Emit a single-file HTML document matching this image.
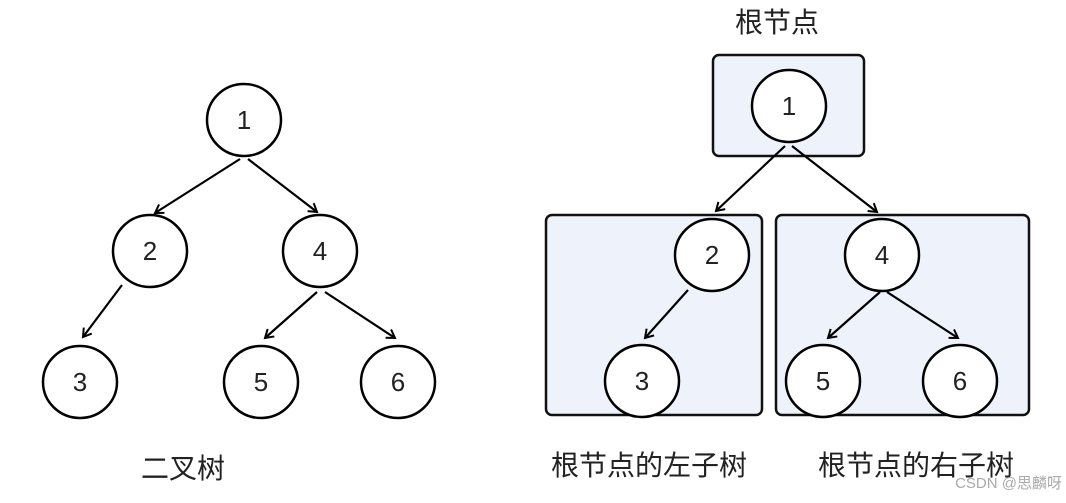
<!DOCTYPE html>
<html><head><meta charset="utf-8"><style>
body{margin:0;background:#fff;}
text{font-family:"Liberation Sans","Noto Sans CJK SC",sans-serif;fill:#222;}
</style></head><body>
<svg width="1066" height="498" viewBox="0 0 1066 498" xmlns="http://www.w3.org/2000/svg">
<defs><marker id="a" markerWidth="12" markerHeight="12" refX="9" refY="6" orient="auto" markerUnits="userSpaceOnUse">
<path d="M1,1 L9,6 L1,11" fill="none" stroke="#000" stroke-width="2"/></marker></defs>
<g fill="#eef3fb" stroke="#111" stroke-width="2.5">
<rect x="713" y="55" width="151" height="101" rx="6"/>
<rect x="546" y="215" width="216" height="200" rx="6"/>
<rect x="776" y="215" width="253" height="200" rx="6"/>
</g>
<g stroke="#000" stroke-width="2.2" fill="none" marker-end="url(#a)">
<line x1="240" y1="159" x2="155" y2="213"/>
<line x1="248" y1="159" x2="317" y2="212"/>
<line x1="122" y1="285" x2="83" y2="337"/>
<line x1="317" y1="292" x2="265" y2="338"/>
<line x1="325" y1="292" x2="395" y2="338"/>
<line x1="785" y1="146" x2="716" y2="211"/>
<line x1="792" y1="146" x2="877" y2="212"/>
<line x1="688" y1="290" x2="645" y2="338"/>
<line x1="880" y1="292" x2="828" y2="338"/>
<line x1="887" y1="292" x2="958" y2="338"/>
</g>
<g fill="#fff" stroke="#000" stroke-width="2.5">
<ellipse cx="244" cy="120" rx="37" ry="36"/>
<ellipse cx="150" cy="251" rx="37" ry="36"/>
<ellipse cx="320" cy="251" rx="37" ry="36"/>
<ellipse cx="80" cy="382" rx="37" ry="36"/>
<ellipse cx="261" cy="382" rx="37" ry="36"/>
<ellipse cx="398" cy="382" rx="37" ry="36"/>
<ellipse cx="789" cy="106" rx="37" ry="36"/>
<ellipse cx="712" cy="255" rx="37" ry="36"/>
<ellipse cx="882" cy="255" rx="37" ry="36"/>
<ellipse cx="642" cy="381" rx="37" ry="36"/>
<ellipse cx="823" cy="381" rx="37" ry="36"/>
<ellipse cx="960" cy="381" rx="37" ry="36"/>
</g>
<g font-size="26" text-anchor="middle">
<text x="244" y="129">1</text><text x="150" y="260">2</text><text x="320" y="260">4</text>
<text x="80" y="391">3</text><text x="261" y="391">5</text><text x="398" y="391">6</text>
<text x="789" y="115">1</text><text x="712" y="264">2</text><text x="882" y="264">4</text>
<text x="642" y="390">3</text><text x="823" y="390">5</text><text x="960" y="390">6</text>
</g>
<g font-size="28" text-anchor="middle">
<text x="183" y="478">二叉树</text>
<text x="777" y="32">根节点</text>
<text x="649" y="475">根节点的左子树</text>
<text x="916" y="475">根节点的右子树</text>
</g>
<text x="1062" y="488" font-size="15" text-anchor="end" style="fill:#aaa">CSDN @思麟呀</text>
</svg>
</body></html>
